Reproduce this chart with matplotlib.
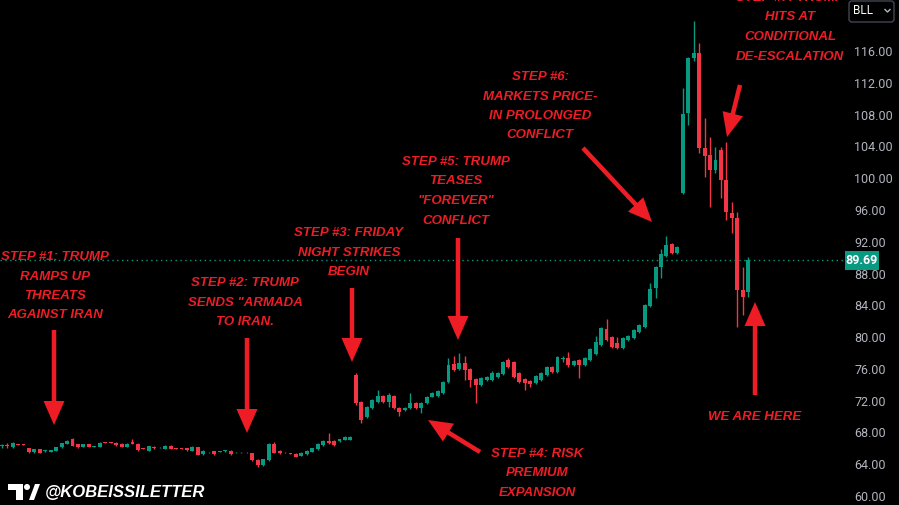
import numpy as np
import matplotlib.pyplot as plt
from matplotlib.patches import FancyArrow, FancyBboxPatch, Rectangle, Polygon, Circle

# OHLC, one candle per slot, left to right
opens = [66.27, 66.45, 66.13, 66.52, 66.44, 66.00, 65.54, 65.88, 65.65, 65.58,
         65.71, 66.13, 66.55, 67.13, 66.50, 66.21, 66.50, 66.19, 66.21, 66.73,
         66.73, 66.71, 66.55, 66.21, 66.84, 66.55, 66.02, 65.71, 66.21, 66.11,
         65.96, 66.29, 66.02, 66.02, 66.00, 65.71, 66.13, 65.29, 65.48, 65.62,
         65.56, 65.65, 65.71, 65.48, 65.48, 65.52, 65.37, 64.53, 63.90, 64.53,
         66.55, 65.71, 65.52, 65.39, 65.29, 65.04, 65.29, 65.58, 65.88, 66.42,
         66.97, 66.97, 66.90, 67.05, 67.10, 75.23, 71.87, 69.94, 71.07, 71.83,
         72.58, 71.87, 72.58, 71.07, 70.82, 71.07, 71.70, 71.07, 71.70, 72.46,
         72.58, 72.96, 74.35, 76.61, 75.98, 76.74, 75.98, 74.72, 73.97, 74.60,
         74.60, 74.98, 75.35, 77.12, 76.86, 75.48, 74.72, 74.47, 74.22, 74.60,
         75.23, 76.23, 75.60, 77.30, 77.37, 76.49, 77.12, 76.49, 77.12, 77.87,
         79.00, 81.02, 80.01, 79.25, 78.63, 79.63, 79.88, 80.64, 81.27, 83.91,
         86.18, 88.82, 90.20, 91.71, 90.58, 98.13, 108.20, 115.12, 115.75, 103.80,
         102.92, 101.03, 103.54, 99.77, 95.62, 94.99, 85.93, 85.67]
highs = [66.50, 66.62, 66.75, 66.60, 66.50, 66.08, 65.95, 65.95, 65.75, 65.85,
         66.20, 66.70, 67.05, 67.30, 66.58, 66.58, 66.58, 66.26, 66.80, 66.80,
         66.80, 66.80, 66.65, 66.62, 67.13, 66.62, 66.10, 66.35, 66.28, 66.20,
         66.36, 66.36, 66.08, 66.08, 66.06, 66.28, 66.20, 65.75, 65.56, 65.70,
         65.65, 65.74, 65.78, 65.56, 65.56, 65.58, 65.45, 64.60, 64.70, 66.65,
         66.75, 65.78, 65.58, 65.45, 65.36, 65.52, 65.78, 66.06, 66.62, 67.05,
         67.89, 67.05, 67.20, 67.50, 67.55, 75.48, 72.00, 71.30, 72.20, 73.34,
         72.70, 72.92, 72.70, 71.15, 71.20, 72.92, 71.80, 71.80, 72.55, 73.05,
         73.30, 74.45, 77.37, 77.62, 78.03, 77.62, 76.10, 74.80, 74.95, 75.05,
         75.77, 75.56, 76.95, 77.37, 76.95, 75.56, 74.80, 74.60, 75.18, 75.56,
         76.30, 76.30, 77.56, 77.62, 78.16, 77.06, 77.20, 77.45, 78.58, 80.14,
         81.22, 82.28, 80.10, 80.01, 79.96, 80.22, 80.97, 81.60, 84.12, 86.84,
         88.90, 91.08, 92.72, 91.80, 91.42, 111.35, 115.20, 119.78, 117.01, 107.57,
         105.18, 103.92, 103.92, 104.55, 97.00, 95.74, 88.82, 90.08]
lows = [66.10, 66.10, 66.05, 66.45, 66.36, 65.40, 65.45, 65.40, 65.60, 65.52,
        65.65, 66.05, 66.50, 66.25, 66.05, 66.15, 66.15, 66.15, 66.15, 66.65,
        66.65, 66.30, 66.15, 66.15, 66.50, 65.70, 65.92, 65.65, 65.95, 66.05,
        65.90, 65.90, 65.94, 65.94, 65.70, 65.65, 65.12, 65.22, 65.42, 65.22,
        65.50, 65.60, 65.22, 65.44, 65.44, 65.44, 64.45, 63.70, 63.80, 64.45,
        65.40, 65.30, 65.44, 65.30, 64.88, 64.98, 65.22, 65.52, 65.80, 66.35,
        66.55, 66.35, 66.85, 67.00, 67.05, 71.50, 69.19, 69.80, 71.00, 71.75,
        71.75, 71.24, 71.00, 70.07, 70.75, 71.00, 71.00, 70.48, 71.62, 72.40,
        72.50, 72.90, 74.25, 75.78, 75.90, 74.60, 73.72, 71.70, 73.90, 74.52,
        74.52, 74.90, 75.28, 76.11, 74.90, 74.28, 73.34, 73.72, 74.15, 74.52,
        75.15, 75.52, 75.52, 76.90, 76.27, 76.42, 74.89, 76.42, 77.05, 77.80,
        78.92, 79.55, 78.68, 78.55, 78.55, 79.55, 79.80, 80.56, 81.20, 83.83,
        84.92, 87.43, 90.12, 90.50, 90.50, 98.00, 106.69, 114.80, 103.17, 100.15,
        96.37, 100.66, 97.50, 94.73, 93.10, 81.27, 82.78, 85.04]
closes = [66.31, 66.25, 66.63, 66.48, 66.40, 65.50, 65.88, 65.46, 65.69, 65.79,
          66.13, 66.63, 66.97, 66.34, 66.13, 66.50, 66.21, 66.23, 66.71, 66.69,
          66.69, 66.38, 66.21, 66.55, 66.55, 65.79, 65.98, 66.29, 66.00, 66.15,
          66.29, 65.96, 65.98, 65.98, 65.79, 66.21, 65.20, 65.67, 65.52, 65.29,
          65.60, 65.69, 65.29, 65.52, 65.52, 65.48, 64.53, 63.90, 64.62, 66.55,
          65.46, 65.37, 65.48, 65.35, 64.95, 65.46, 65.71, 66.00, 66.55, 66.97,
          66.63, 66.42, 67.15, 67.42, 67.45, 71.70, 69.56, 71.20, 72.08, 72.58,
          71.83, 72.71, 71.07, 70.57, 71.11, 71.70, 71.07, 71.70, 72.46, 72.96,
          73.21, 74.35, 76.49, 75.86, 76.74, 75.86, 74.60, 73.97, 74.85, 74.98,
          75.48, 75.48, 76.86, 76.23, 74.98, 74.35, 74.22, 74.10, 75.10, 75.48,
          76.23, 75.60, 77.49, 77.40, 76.49, 76.99, 76.49, 77.37, 78.50, 79.38,
          81.14, 79.63, 78.75, 78.63, 79.88, 80.14, 80.89, 81.52, 84.04, 86.05,
          88.82, 90.45, 91.59, 90.58, 91.34, 108.07, 115.12, 115.75, 103.80, 102.79,
          101.03, 102.28, 99.77, 95.74, 94.99, 85.93, 85.04, 89.69]

price_ticks = [60, 64, 68, 72, 76, 80, 84, 88, 92, 96, 100, 104, 108, 112, 116]
last_price = 89.69
symbol = "BLL"
handle = "@KOBEISSILETTER"

# annotation text: lines, centre x, first line y (pixels from top)
notes = [
    (["STEP #1: TRUMP", "RAMPS UP", "THREATS", "AGAINST IRAN"], 55, 257),
    (["STEP #2: TRUMP", "SENDS \"ARMADA", "TO IRAN."], 245, 283),
    (["STEP #3: FRIDAY", "NIGHT STRIKES", "BEGIN"], 349, 233),
    (["STEP #4: RISK", "PREMIUM", "EXPANSION"], 537, 454),
    (["STEP #5: TRUMP", "TEASES", "\"FOREVER\"", "CONFLICT"], 456, 162),
    (["STEP #6:", "MARKETS PRICE-", "IN PROLONGED", "CONFLICT"], 540, 77),
    (["STEP #7: TRUMP", "HITS AT", "CONDITIONAL", "DE-ESCALATION"], 790, -2),
    (["WE ARE HERE"], 755, 417),
]
# arrows: tail -> tip, pixels
arrows = [
    ((54, 330), (54, 425)),
    ((247, 338), (247, 433)),
    ((352, 288), (352, 362)),
    ((480, 452), (428, 420)),
    ((458, 238), (458, 340)),
    ((583, 148), (652, 222)),
    ((740, 85), (727, 137)),
    ((755, 395), (755, 302)),
]

UP = '#089981'
DOWN = '#f23645'
RED = '#ee1c25'
W, H = 899, 505

fig = plt.figure(figsize=(W / 100, H / 100), dpi=100, facecolor='black')
ax = fig.add_axes([0, 0, 843 / W, 1], facecolor='black')

o = np.array(opens); c = np.array(closes)
x = np.arange(len(o))
cols = [UP if cc >= oo else DOWN for oo, cc in zip(o, c)]
ax.vlines(x, lows, highs, colors=cols, lw=1)
ax.bar(x, np.maximum(np.abs(c - o), 0.1), bottom=np.minimum(o, c), width=0.72,
       color=cols, linewidth=0)
ax.axhline(last_price, color=UP, lw=1, ls=(0, (1, 2.5)))

ax.set_xlim(-0.31, 154.4)
ax.set_ylim(58.87, 122.42)
ax.set_xticks([])
ax.yaxis.tick_right()
ax.set_yticks(price_ticks)
ax.set_yticklabels([f"{t:.2f}" for t in price_ticks], color='#b2b5be',
                   fontsize=9, fontfamily='Roboto')
ax.tick_params(axis='y', length=0, pad=8)
for s in ax.spines.values():
    s.set_visible(False)

# overlay in pixel coordinates for notes, arrows, badges
ov = fig.add_axes([0, 0, 1, 1], facecolor='none')
ov.set_xlim(0, W); ov.set_ylim(H, 0); ov.axis('off')

for lines, cx, y0 in notes:
    for k, line in enumerate(lines):
        ov.text(cx, y0 + k * 19.5, line, color=RED, ha='center', va='center',
                fontsize=9.5, fontfamily='Liberation Sans', fontweight='bold',
                fontstyle='italic')

for (x0, y0), (x1, y1) in arrows:
    ov.add_patch(FancyArrow(x0, y0, x1 - x0, y1 - y0, width=4.5, head_width=21,
                            head_length=24, length_includes_head=True,
                            color=RED, lw=0))

# last price badge
ov.add_patch(Rectangle((845, 251), 34, 19, facecolor=UP, edgecolor='none', zorder=5))
ov.text(862, 260.5, f"{last_price:.2f}", color='white', ha='center', va='center',
        fontsize=9, fontfamily='Roboto', fontweight='bold', zorder=6)

# symbol box
ov.add_patch(FancyBboxPatch((849, 1), 45, 21, boxstyle='round,pad=0,rounding_size=3',
                            facecolor='black', edgecolor='#434651', lw=1))
ov.text(853, 11, symbol, color='white', ha='left', va='center', fontsize=8.5,
        fontfamily='Roboto')
ov.plot([885, 887.5, 890], [9.5, 12, 9.5], color='#b2b5be', lw=1)

# watermark
ov.add_patch(Polygon([(8, 484), (23, 484), (23, 500), (16, 500), (16, 490), (8, 490)],
                     facecolor='white', edgecolor='none'))
ov.add_patch(Circle((27, 487), 3, facecolor='white', edgecolor='none'))
ov.add_patch(Polygon([(29, 500), (35, 484), (40, 484), (34, 500)],
                     facecolor='white', edgecolor='none'))
ov.text(45, 492, handle, color='white', ha='left', va='center', fontsize=12,
        fontfamily='Liberation Sans', fontweight='bold', fontstyle='italic')

fig.savefig('out.png', dpi=100, facecolor='black')
